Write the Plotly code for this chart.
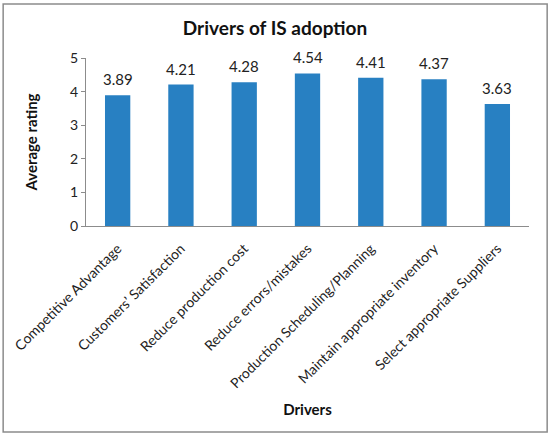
import plotly.graph_objects as go

drivers = [
    "Competitive Advantage",
    "Customers’ Satisfaction",
    "Reduce production cost",
    "Reduce errors/mistakes",
    "Production Scheduling/Planning",
    "Maintain appropriate inventory",
    "Select appropriate Suppliers",
]
ratings = [3.89, 4.21, 4.28, 4.54, 4.41, 4.37, 3.63]

FONT = "Lato, Carlito, Calibri, sans-serif"

fig = go.Figure(
    go.Bar(
        x=drivers,
        y=ratings,
        marker=dict(color="#2880C2", line=dict(width=0)),
        hoverinfo="x+y",
    )
)

# value labels sitting above each bar
for name, val in zip(drivers, ratings):
    fig.add_annotation(
        x=name,
        y=val,
        text=f"{val:.2f}",
        showarrow=False,
        yanchor="bottom",
        yshift=5,
        font=dict(family=FONT, size=15, color="#222222"),
    )

fig.update_layout(
    width=550,
    height=439,
    margin=dict(l=86, r=21, t=58, b=213),
    paper_bgcolor="white",
    plot_bgcolor="white",
    bargap=0.6,
    showlegend=False,
    font=dict(family=FONT, size=13, color="#222222"),
    title=dict(
        text="<b>Drivers of IS adoption</b>",
        x=0.5,
        xanchor="center",
        y=0.935,
        yanchor="middle",
        font=dict(family=FONT, size=19, color="#111111"),
    ),
    # grey frame round the whole chart
    shapes=[
        dict(
            type="rect",
            xref="paper",
            yref="paper",
            x0=-0.187,
            x1=1.041,
            y0=-1.226,
            y1=1.321,
            line=dict(color="#8c8c8c", width=1.5),
        )
    ],
)

fig.update_xaxes(
    automargin=False,
    showline=True,
    linecolor="#8c8c8c",
    linewidth=1,
    ticks="",
    tickangle=-45,
    ticklabelstandoff=8,
    tickfont=dict(family=FONT, size=14, color="#222222"),
    title=dict(text="<b>Drivers</b>", font=dict(family=FONT, size=15, color="#111111"), standoff=14),
)

fig.update_yaxes(
    automargin=False,
    range=[0, 5],
    dtick=1,
    showgrid=False,
    zeroline=False,
    showline=True,
    linecolor="#8c8c8c",
    linewidth=1,
    ticks="outside",
    ticklen=4,
    tickcolor="#8c8c8c",
    tickfont=dict(family=FONT, size=14, color="#222222"),
    title=dict(text="<b>Average rating</b>", font=dict(family=FONT, size=15, color="#111111"), standoff=28),
)

fig.write_html(
    "out.html",
    config={"displayModeBar": False},
    post_script="document.body.style.margin = '0';",
)
